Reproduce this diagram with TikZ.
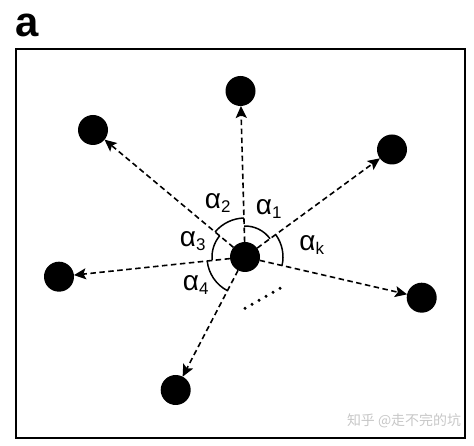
\documentclass[tikz,border=0pt]{standalone}
\usepackage{fontspec}
\setmainfont{Liberation Sans}
\newfontfamily\cjk{Noto Sans CJK SC}
\usetikzlibrary{arrows.meta}
\begin{document}
\begin{tikzpicture}[x=1bp,y=1bp,
  dot/.style={circle,fill=black,minimum size=30bp,inner sep=0pt,outer sep=0pt},
  ray/.style={dashed,dash pattern=on 5.5bp off 3.5bp,line width=1.6bp,-{Stealth[length=12bp,width=11bp,inset=2.5bp]}},
  angarc/.style={line width=1.5bp},
  lab/.style={font=\fontsize{28}{28}\selectfont,inner sep=0pt},
  sdot/.style={circle,fill=black,minimum size=3.4bp,inner sep=0pt}]
\useasboundingbox (0,0) rectangle (474,446);
\node[font=\bfseries\fontsize{42}{42}\selectfont,inner sep=0pt] (lbl) at (27,421) {a};
\draw[line width=2bp] (16,397) rectangle (465,8);
\node[dot] (c) at (245,189) {};
\node[dot] (n1) at (240.5,355) {};
\node[dot] (n2) at (93,316) {};
\node[dot] (n3) at (392,296.5) {};
\node[dot] (n4) at (59,169.3) {};
\node[dot] (n5) at (421.7,148.3) {};
\node[dot] (n6) at (175.7,56) {};
\foreach \n in {n1,n2,n3,n4,n5,n6} \draw[ray] (c) -- (\n);
% angle arcs
\draw[angarc] ([shift={(36:31)}]c.center) arc[start angle=36,end angle=91.6,radius=31];
\draw[angarc] ([shift={(91.6:39)}]c.center) arc[start angle=91.6,end angle=140,radius=39];
\draw[angarc] ([shift={(140:33)}]c.center) arc[start angle=140,end angle=186,radius=33];
\draw[angarc] ([shift={(186:38)}]c.center) arc[start angle=186,end angle=242.5,radius=38];
\draw[angarc] ([shift={(-13:38)}]c.center) arc[start angle=-13,end angle=36,radius=38];
% labels
\node[lab] (a1) at (269,237) {α\textsubscript{\fontsize{17}{17}\selectfont 1}};
\node[lab] (a2) at (218,243) {α\textsubscript{\fontsize{17}{17}\selectfont 2}};
\node[lab] (a3) at (193,205) {α\textsubscript{\fontsize{17}{17}\selectfont 3}};
\node[lab] (a4) at (196,161) {α\textsubscript{\fontsize{17}{17}\selectfont 4}};
\node[lab] (ak) at (312,201) {α\textsubscript{\fontsize{17}{17}\selectfont k}};
% dots
\foreach \i in {0,...,5} \node[sdot] (d\i) at (245+7*\i,137.7+4*\i) {};
% watermark
\node[font=\cjk\fontsize{14}{14}\selectfont,text=black!22,inner sep=0pt] (wm) at (404,25) {知乎 @走不完的坑};
\end{tikzpicture}
\end{document}
